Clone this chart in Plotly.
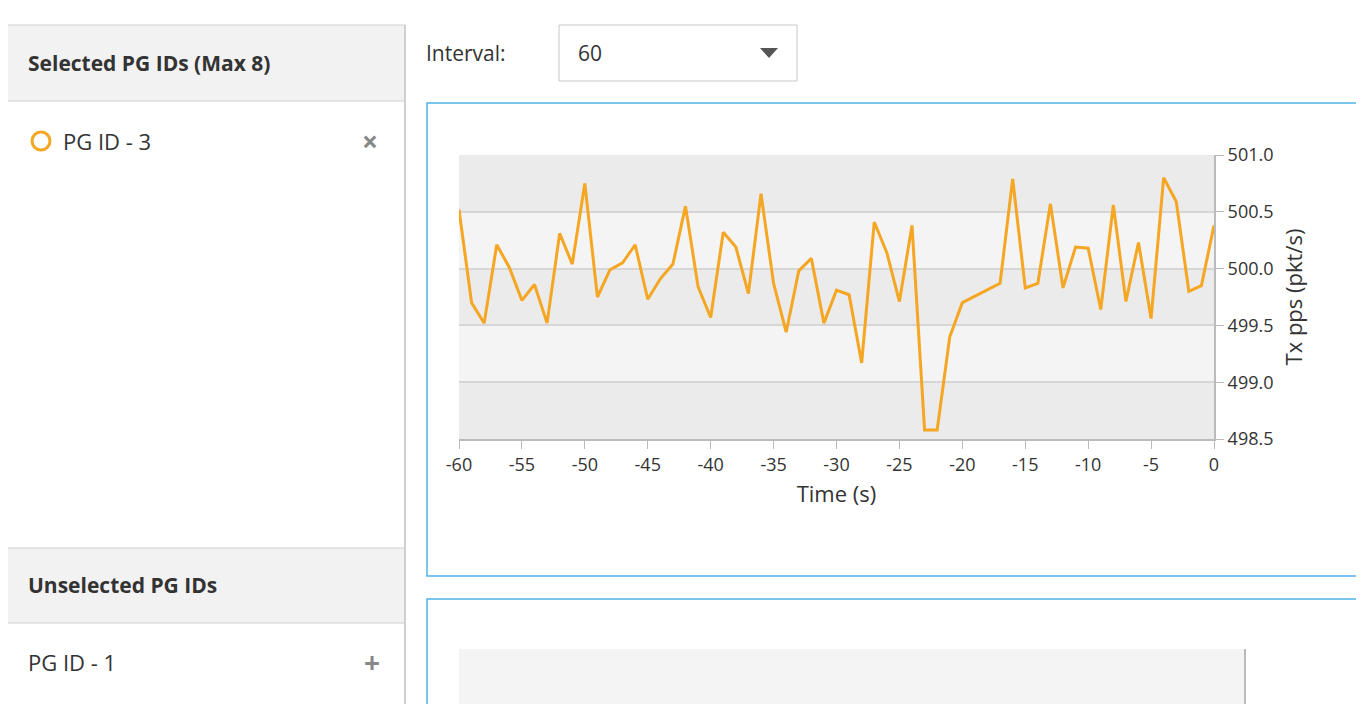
import plotly.graph_objects as go

W, H = 1364, 704

# Tx pps samples (time in s, value in pkt/s)
times = [-60, -59, -58, -57, -56, -55, -54, -53, -52, -51, -50, -49, -48, -47, -46,
         -45, -44, -43, -42, -41, -40, -39, -38, -37, -36, -35, -34, -33, -32, -31,
         -30, -29, -28, -27, -26, -25, -24, -23, -22, -21, -20, -17, -16, -15, -14,
         -13, -12, -11, -10, -9, -8, -7, -6, -5, -4, -3, -2, -1, 0]
tx_pps = [500.52, 499.70, 499.52, 500.21, 500.01, 499.72, 499.86, 499.52, 500.31, 500.04,
          500.75, 499.75, 499.99, 500.05, 500.21, 499.73, 499.91, 500.04, 500.55, 499.84,
          499.57, 500.32, 500.19, 499.78, 500.66, 499.87, 499.44, 499.98, 500.09, 499.52,
          499.81, 499.77, 499.17, 500.41, 500.14, 499.71, 500.38, 498.58, 498.58, 499.40,
          499.70, 499.87, 500.79, 499.83, 499.87, 500.57, 499.83, 500.19, 500.18, 499.64,
          500.56, 499.71, 500.23, 499.56, 500.80, 500.59, 499.80, 499.85, 500.38]
x_ticks = list(range(-60, 1, 5))
x_ticktext = [str(t) for t in x_ticks]
y_ticks = [498.5, 499.0, 499.5, 500.0, 500.5, 501.0]
bands = [(500.5, 501.0), (499.5, 500.0), (498.5, 499.0)]


def px(x):
    return x / W


def py(y):
    return 1 - y / H


FONT = "Open Sans"
ORANGE = "#f5a623"

fig = go.Figure()
fig.add_trace(go.Scatter(x=times, y=tx_pps, mode="lines",
                         line=dict(color=ORANGE, width=3), showlegend=False))

shapes = []
# alternating bands in plot
for lo, hi in bands:
    shapes.append(dict(type="rect", xref="x domain", yref="y", x0=0, x1=1, y0=lo, y1=hi,
                       fillcolor="#ebebeb", line_width=0, layer="below"))


def rect(x0, y0, x1, y1, fill=None, line="#cfcfcf", lw=1):
    shapes.append(dict(type="rect", xref="paper", yref="paper",
                       x0=px(x0), x1=px(x1), y0=py(y1), y1=py(y0),
                       fillcolor=fill or "rgba(0,0,0,0)",
                       line=dict(color=line, width=lw), layer="below"))


def vline(x, y0, y1, color="#cfcfcf", lw=1):
    shapes.append(dict(type="line", xref="paper", yref="paper", x0=px(x), x1=px(x),
                       y0=py(y0), y1=py(y1), line=dict(color=color, width=lw)))


# left panel
rect(-5, 17, 397, 93, fill="#f2f2f2")
rect(-5, 540, 397, 615, fill="#f2f2f2")
vline(397, 17, 704, lw=2)
# dropdown
rect(551, 17, 789, 73, fill="white", line="#c8c8c8")
shapes.append(dict(type="path", xref="paper", yref="paper",
                   path=f"M {px(752)} {py(40)} L {px(770)} {py(40)} L {px(761)} {py(50)} Z",
                   fillcolor="#555", line_width=0))
# chart boxes
rect(419, 95, 1361, 568, line="#4fb3e8", lw=1.5)
rect(419, 591, 1361, 720, line="#4fb3e8", lw=1.5)
rect(451, 641, 1237, 720, fill="#f4f4f4", line="rgba(0,0,0,0)")
vline(1237, 641, 704, color="#bbbbbb", lw=2)
# orange circle
shapes.append(dict(type="circle", xref="paper", yref="paper",
                   x0=px(24), x1=px(42), y0=py(142), y1=py(124),
                   line=dict(color=ORANGE, width=3)))

ann = []


def text(x, y, s, size=20, color="#333", bold=False, anchor="left"):
    ann.append(dict(xref="paper", yref="paper", x=px(x), y=py(y), text=f"<b>{s}</b>" if bold else s,
                    showarrow=False, xanchor=anchor, yanchor="middle",
                    font=dict(family=FONT, size=size, color=color)))


text(18, 55, "Selected PG IDs (Max 8)", 21, bold=True)
text(53, 133, "PG ID - 3", 22)
text(362, 133, "<b>×</b>", 28, color="#888", anchor="center")
text(18, 577, "Unselected PG IDs", 21, bold=True)
text(18, 654, "PG ID - 1", 22)
text(364, 654, "<b>+</b>", 28, color="#888", anchor="center")
text(416, 45, "Interval:", 21)
text(568, 45, "60", 21)

fig.update_layout(
    width=W, height=H, margin=dict(l=0, r=0, t=0, b=0),
    paper_bgcolor="white", plot_bgcolor="#f4f4f4",
    font=dict(family=FONT, size=18, color="#333"),
    shapes=shapes, annotations=ann,
    xaxis=dict(domain=[px(451), px(1206)], range=[-60, 0], tickvals=x_ticks, ticktext=x_ticktext,
               automargin=False,
               showgrid=False, zeroline=False, showline=True, linecolor="#bbbbbb", linewidth=2,
               ticks="outside", ticklen=8, tickcolor="#bbbbbb",
               title=dict(text="Time (s)", font=dict(size=22), standoff=12)),
    yaxis=dict(domain=[py(431), py(147)], range=[498.5, 501.0], tickvals=y_ticks,
               automargin=False,
               tickformat=".1f", side="right", showgrid=True, gridcolor="#d6d6d6", gridwidth=1.5,
               zeroline=False, showline=True, linecolor="#bbbbbb", linewidth=2,
               ticks="outside", ticklen=8, tickcolor="#bbbbbb",
               title=dict(text="Tx pps (pkt/s)", font=dict(size=22), standoff=14)),
)

fig.write_html("out.html")
